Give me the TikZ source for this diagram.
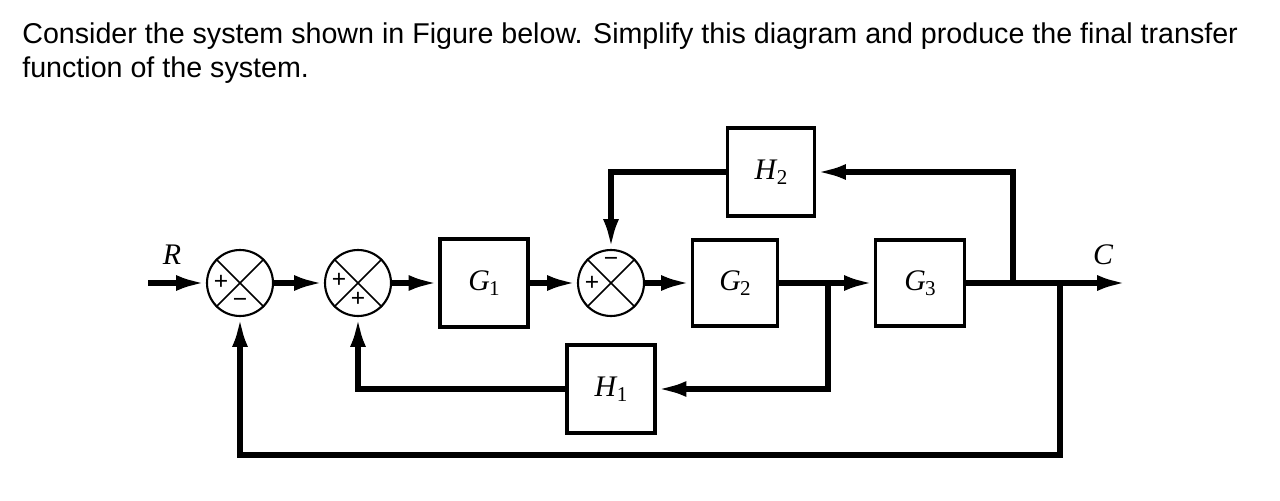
\documentclass[tikz,border=0pt]{standalone}
\usepackage{fontspec}
\setmainfont{Liberation Serif}
\newfontfamily\sans{Liberation Sans}
\usetikzlibrary{arrows.meta}
\newcommand{\gl}[2]{\textit{#1}\kern-0.5pt\raisebox{-3pt}{\fontsize{12}{12}\selectfont #2}}
\begin{document}
\begin{tikzpicture}[x=0.02cm,y=-0.02cm,
  blk/.style={draw,line width=1.8pt,minimum width=1.76cm,minimum height=1.76cm,inner sep=0pt,font=\fontsize{17}{19}\selectfont},
  sumj/.style={draw,circle,line width=1.2pt,minimum size=1.32cm,inner sep=0pt},
  sig/.style={line width=3.2pt,-{Latex[length=17pt,width=9pt]}},
  sg/.style={font=\sans\fontsize{14}{14}\selectfont,inner sep=0pt}]
\useasboundingbox (0,0) rectangle (1280,500);
\node[anchor=west,font=\sans\fontsize{16.3}{20}\selectfont,inner sep=0pt] (t1) at (22,36) {Consider the system shown in Figure below. Simplify this diagram and produce the final transfer};
\node[anchor=west,font=\sans\fontsize{16.3}{20}\selectfont,inner sep=0pt] (t2) at (22,70) {function of the system.};
% summing junctions
\foreach \n/\x in {s1/240,s2/358,s3/611}{
  \node[sumj] (\n) at (\x,283) {};
  \draw[line width=0.9pt] (\n.north west) -- (\n.south east) (\n.north east) -- (\n.south west);
}
\node[sg] (p1) at (221,282) {+};
\node[sg] (m1) at (240,303) {\textminus};
\node[sg] (p2) at (339,280) {+};
\node[sg] (p2b) at (358,299) {+};
\node[sg] (p3) at (592,283) {+};
\node[sg] (m3) at (611,262) {\textminus};
% blocks
\node[blk] (G1) at (484,283) {\gl{G}{1}};
\node[blk,minimum width=1.7cm,minimum height=1.72cm] (G2) at (735,283) {\gl{G}{2}};
\node[blk,minimum width=1.78cm,minimum height=1.72cm] (G3) at (920,283) {\gl{G}{3}};
\node[blk,minimum width=1.74cm] (H2) at (771,172) {\gl{H}{2}};
\node[blk] (H1) at (611,389) {\gl{H}{1}};
% coordinates
\coordinate (in) at (148,283);
\coordinate (out) at (1127,283);
\coordinate (b1) at (828,283);
\coordinate (b2) at (1013,283);
\coordinate (b3) at (1060,283);
\node[font=\fontsize{17}{19}\selectfont\itshape,inner sep=0pt] (R) at (172,255) {R};
\node[font=\fontsize{17}{19}\selectfont\itshape,inner sep=0pt] (C) at (1103,255) {C};
% forward path
\draw[sig] (in) -- (s1);
\draw[sig] (s1) -- (s2);
\draw[sig] (s2) -- (G1);
\draw[sig] (G1) -- (s3);
\draw[sig] (s3) -- (G2);
\draw[sig] (G2) -- (G3);
\draw[sig] (G3) -- (out);
% H2 loop
\draw[sig] (b2) |- (H2);
\draw[sig] (H2) -| (s3);
% H1 loop
\draw[sig] (b1) |- (H1);
\draw[sig] (H1) -| (s2);
% outer loop
\draw[sig] (b3) -- (1060,455) -| (s1);
\end{tikzpicture}
\end{document}
